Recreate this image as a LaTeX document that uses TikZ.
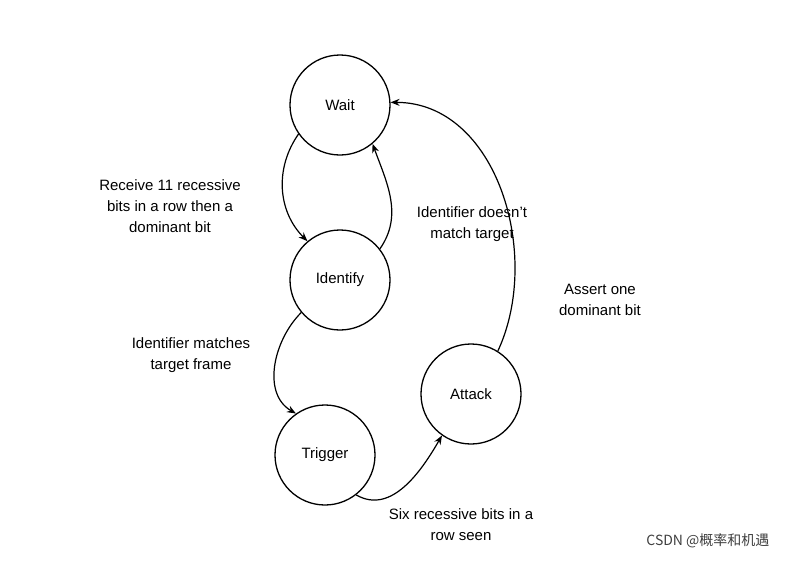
\documentclass[tikz,border=0pt]{standalone}
\usepackage{fontspec}
\setmainfont{Liberation Sans}
\newfontfamily\cjk{Noto Sans CJK SC}
\usetikzlibrary{arrows.meta}
\begin{document}
\begin{tikzpicture}[x=1pt,y=-1pt,
  st/.style={circle,draw,line width=1.3pt,minimum size=100pt,inner sep=0pt,font=\fontsize{15}{18}\selectfont},
  ar/.style={line width=1.2pt,-{Stealth[length=9pt,width=7pt]}},
  lb/.style={align=center,font=\fontsize{15}{21}\selectfont}]
\useasboundingbox (0,0) rectangle (787,560);
\fill[white] (0,0) rectangle (787,560);
\node[st] (w) at (340,105) {Wait};
\node[st] (i) at (340,280) {Identify};
\node[st] (t) at (325,455) {Trigger};
\node[st] (a) at (471,394) {Attack};
\draw[ar] (w.215) to[out=235,in=135] (i.130);
\draw[ar] (i.38) to[out=55,in=-70] (w.-50);
\draw[ar] (i.220) to[out=225,in=150] (t.125);
\draw[ar] (t.-52) to[out=-30,in=-120] (a.235);
\draw[ar] (a.58) to[out=65,in=0] (w.3);
\node[lb] (l1) at (170,206) {Receive 11 recessive\\bits in a row then a\\dominant bit};
\node[lb] (l2) at (472,224) {Identifier doesn’t\\match target};
\node[lb] (l3) at (191,355) {Identifier matches\\target frame};
\node[lb] (l4) at (600,300) {Assert one\\dominant bit};
\node[lb] (l5) at (461,525) {Six recessive bits in a\\row seen};
\node[font=\cjk\fontsize{14}{16}\selectfont,text=black!75,anchor=east] (wm) at (773,541) {CSDN @概率和机遇};
\end{tikzpicture}
\end{document}
